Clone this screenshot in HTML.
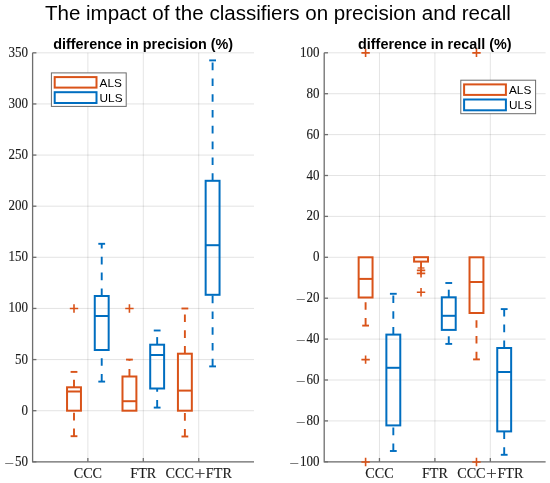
<!DOCTYPE html>
<html><head><meta charset="utf-8"><title>The impact of the classifiers on precision and recall</title>
<style>
html,body{margin:0;padding:0;background:#fff;}
body{width:550px;height:483px;overflow:hidden;}
svg{display:block;}
.yt{font-family:"Liberation Serif",serif;font-size:13px;fill:#1a1a1a;stroke:#1a1a1a;stroke-width:0.12px;text-anchor:end;}
.xt{font-family:"Liberation Serif",serif;font-size:14.2px;fill:#1a1a1a;stroke:#1a1a1a;stroke-width:0.12px;text-anchor:middle;}
.mi{font-family:"DejaVu Sans",serif;font-weight:200;stroke:none;}
.pl{font-family:"DejaVu Sans",serif;font-weight:200;stroke-width:0.2px;}
.lg{font-family:"Liberation Sans",sans-serif;font-size:11.8px;fill:#000;}
.st{font-family:"Liberation Sans",sans-serif;font-size:14.4px;font-weight:bold;fill:#000;text-anchor:middle;}
.mt{font-family:"Liberation Sans",sans-serif;font-size:20.55px;fill:#000;text-anchor:middle;}
</style></head>
<body>
<svg width="550" height="483" viewBox="0 0 550 483">
<rect width="550" height="483" fill="#fff"/>
<text x="277.9" y="20.2" class="mt">The impact of the classifiers on precision and recall</text>
<text x="143.2" y="49.1" class="st">difference in precision (%)</text>
<text x="434.8" y="49.1" class="st">difference in recall (%)</text>
<line x1="32.6" y1="52.82" x2="254" y2="52.82" stroke="#262626" stroke-opacity="0.125" stroke-width="1"/>
<line x1="32.6" y1="103.95" x2="254" y2="103.95" stroke="#262626" stroke-opacity="0.125" stroke-width="1"/>
<line x1="32.6" y1="155.07" x2="254" y2="155.07" stroke="#262626" stroke-opacity="0.125" stroke-width="1"/>
<line x1="32.6" y1="206.2" x2="254" y2="206.2" stroke="#262626" stroke-opacity="0.125" stroke-width="1"/>
<line x1="32.6" y1="257.32" x2="254" y2="257.32" stroke="#262626" stroke-opacity="0.125" stroke-width="1"/>
<line x1="32.6" y1="308.45" x2="254" y2="308.45" stroke="#262626" stroke-opacity="0.125" stroke-width="1"/>
<line x1="32.6" y1="359.57" x2="254" y2="359.57" stroke="#262626" stroke-opacity="0.125" stroke-width="1"/>
<line x1="32.6" y1="410.7" x2="254" y2="410.7" stroke="#262626" stroke-opacity="0.125" stroke-width="1"/>
<line x1="32.6" y1="461.82" x2="254" y2="461.82" stroke="#262626" stroke-opacity="0.125" stroke-width="1"/>
<line x1="87.86" y1="52.8" x2="87.86" y2="461.8" stroke="#262626" stroke-opacity="0.125" stroke-width="1"/>
<line x1="143.3" y1="52.8" x2="143.3" y2="461.8" stroke="#262626" stroke-opacity="0.125" stroke-width="1"/>
<line x1="198.74" y1="52.8" x2="198.74" y2="461.8" stroke="#262626" stroke-opacity="0.125" stroke-width="1"/>
<line x1="324.2" y1="52.8" x2="545.6" y2="52.8" stroke="#262626" stroke-opacity="0.125" stroke-width="1"/>
<line x1="324.2" y1="93.7" x2="545.6" y2="93.7" stroke="#262626" stroke-opacity="0.125" stroke-width="1"/>
<line x1="324.2" y1="134.6" x2="545.6" y2="134.6" stroke="#262626" stroke-opacity="0.125" stroke-width="1"/>
<line x1="324.2" y1="175.5" x2="545.6" y2="175.5" stroke="#262626" stroke-opacity="0.125" stroke-width="1"/>
<line x1="324.2" y1="216.4" x2="545.6" y2="216.4" stroke="#262626" stroke-opacity="0.125" stroke-width="1"/>
<line x1="324.2" y1="257.3" x2="545.6" y2="257.3" stroke="#262626" stroke-opacity="0.125" stroke-width="1"/>
<line x1="324.2" y1="298.2" x2="545.6" y2="298.2" stroke="#262626" stroke-opacity="0.125" stroke-width="1"/>
<line x1="324.2" y1="339.1" x2="545.6" y2="339.1" stroke="#262626" stroke-opacity="0.125" stroke-width="1"/>
<line x1="324.2" y1="380" x2="545.6" y2="380" stroke="#262626" stroke-opacity="0.125" stroke-width="1"/>
<line x1="324.2" y1="420.9" x2="545.6" y2="420.9" stroke="#262626" stroke-opacity="0.125" stroke-width="1"/>
<line x1="324.2" y1="461.8" x2="545.6" y2="461.8" stroke="#262626" stroke-opacity="0.125" stroke-width="1"/>
<line x1="379.46" y1="52.8" x2="379.46" y2="461.8" stroke="#262626" stroke-opacity="0.125" stroke-width="1"/>
<line x1="434.9" y1="52.8" x2="434.9" y2="461.8" stroke="#262626" stroke-opacity="0.125" stroke-width="1"/>
<line x1="490.34" y1="52.8" x2="490.34" y2="461.8" stroke="#262626" stroke-opacity="0.125" stroke-width="1"/>
<line x1="74" y1="387.3" x2="74" y2="371.9" stroke="#D95319" stroke-width="1.9" stroke-dasharray="7.6 8.2"/>
<line x1="74" y1="436.2" x2="74" y2="410.7" stroke="#D95319" stroke-width="1.9" stroke-dasharray="7.6 8.2"/>
<line x1="70.6" y1="371.9" x2="77.4" y2="371.9" stroke="#D95319" stroke-width="1.9"/>
<line x1="70.6" y1="436.2" x2="77.4" y2="436.2" stroke="#D95319" stroke-width="1.9"/>
<rect x="67.05" y="387.3" width="13.9" height="23.4" fill="none" stroke="#D95319" stroke-width="2.0"/>
<line x1="67.05" y1="391.5" x2="80.95" y2="391.5" stroke="#D95319" stroke-width="2.0"/>
<path d="M69.8 308.5H78.2M74 304.3V312.7" stroke="#D95319" stroke-width="1.6" fill="none"/>
<line x1="101.72" y1="296" x2="101.72" y2="243.8" stroke="#006EC0" stroke-width="1.9" stroke-dasharray="7.6 8.2"/>
<line x1="101.72" y1="381.6" x2="101.72" y2="350" stroke="#006EC0" stroke-width="1.9" stroke-dasharray="7.6 8.2"/>
<line x1="98.32" y1="243.8" x2="105.12" y2="243.8" stroke="#006EC0" stroke-width="1.9"/>
<line x1="98.32" y1="381.6" x2="105.12" y2="381.6" stroke="#006EC0" stroke-width="1.9"/>
<rect x="94.77" y="296" width="13.9" height="54" fill="none" stroke="#006EC0" stroke-width="2.0"/>
<line x1="94.77" y1="316" x2="108.67" y2="316" stroke="#006EC0" stroke-width="2.0"/>
<line x1="129.44" y1="376.5" x2="129.44" y2="359.6" stroke="#D95319" stroke-width="1.9" stroke-dasharray="7.6 8.2"/>
<line x1="126.04" y1="359.6" x2="132.84" y2="359.6" stroke="#D95319" stroke-width="1.9"/>
<rect x="122.49" y="376.5" width="13.9" height="34.2" fill="none" stroke="#D95319" stroke-width="2.0"/>
<line x1="122.49" y1="401.2" x2="136.39" y2="401.2" stroke="#D95319" stroke-width="2.0"/>
<path d="M125.24 308.5H133.64M129.44 304.3V312.7" stroke="#D95319" stroke-width="1.6" fill="none"/>
<line x1="157.16" y1="344.7" x2="157.16" y2="330.5" stroke="#006EC0" stroke-width="1.9" stroke-dasharray="7.6 8.2"/>
<line x1="157.16" y1="407.6" x2="157.16" y2="388.5" stroke="#006EC0" stroke-width="1.9" stroke-dasharray="7.6 8.2"/>
<line x1="153.76" y1="330.5" x2="160.56" y2="330.5" stroke="#006EC0" stroke-width="1.9"/>
<line x1="153.76" y1="407.6" x2="160.56" y2="407.6" stroke="#006EC0" stroke-width="1.9"/>
<rect x="150.21" y="344.7" width="13.9" height="43.8" fill="none" stroke="#006EC0" stroke-width="2.0"/>
<line x1="150.21" y1="355" x2="164.11" y2="355" stroke="#006EC0" stroke-width="2.0"/>
<line x1="184.88" y1="353.7" x2="184.88" y2="308.5" stroke="#D95319" stroke-width="1.9" stroke-dasharray="7.6 8.2"/>
<line x1="184.88" y1="436.5" x2="184.88" y2="410.7" stroke="#D95319" stroke-width="1.9" stroke-dasharray="7.6 8.2"/>
<line x1="181.48" y1="308.5" x2="188.28" y2="308.5" stroke="#D95319" stroke-width="1.9"/>
<line x1="181.48" y1="436.5" x2="188.28" y2="436.5" stroke="#D95319" stroke-width="1.9"/>
<rect x="177.93" y="353.7" width="13.9" height="57" fill="none" stroke="#D95319" stroke-width="2.0"/>
<line x1="177.93" y1="390.6" x2="191.83" y2="390.6" stroke="#D95319" stroke-width="2.0"/>
<line x1="212.6" y1="180.8" x2="212.6" y2="60.4" stroke="#006EC0" stroke-width="1.9" stroke-dasharray="7.6 8.2"/>
<line x1="212.6" y1="366.4" x2="212.6" y2="294.8" stroke="#006EC0" stroke-width="1.9" stroke-dasharray="7.6 8.2"/>
<line x1="209.2" y1="60.4" x2="216" y2="60.4" stroke="#006EC0" stroke-width="1.9"/>
<line x1="209.2" y1="366.4" x2="216" y2="366.4" stroke="#006EC0" stroke-width="1.9"/>
<rect x="205.65" y="180.8" width="13.9" height="114" fill="none" stroke="#006EC0" stroke-width="2.0"/>
<line x1="205.65" y1="245.2" x2="219.55" y2="245.2" stroke="#006EC0" stroke-width="2.0"/>
<line x1="365.6" y1="325.6" x2="365.6" y2="297.5" stroke="#D95319" stroke-width="1.9" stroke-dasharray="7.6 8.2"/>
<line x1="362.2" y1="325.6" x2="369" y2="325.6" stroke="#D95319" stroke-width="1.9"/>
<rect x="358.65" y="257.3" width="13.9" height="40.2" fill="none" stroke="#D95319" stroke-width="2.0"/>
<line x1="358.65" y1="278.9" x2="372.55" y2="278.9" stroke="#D95319" stroke-width="2.0"/>
<path d="M361.4 52.9H369.8M365.6 48.7V57.1" stroke="#D95319" stroke-width="1.6" fill="none"/>
<path d="M361.4 359.6H369.8M365.6 355.4V363.8" stroke="#D95319" stroke-width="1.6" fill="none"/>
<line x1="393.32" y1="334.6" x2="393.32" y2="293.8" stroke="#006EC0" stroke-width="1.9" stroke-dasharray="7.6 8.2"/>
<line x1="393.32" y1="451" x2="393.32" y2="425.4" stroke="#006EC0" stroke-width="1.9" stroke-dasharray="7.6 8.2"/>
<line x1="389.92" y1="293.8" x2="396.72" y2="293.8" stroke="#006EC0" stroke-width="1.9"/>
<line x1="389.92" y1="451" x2="396.72" y2="451" stroke="#006EC0" stroke-width="1.9"/>
<rect x="386.37" y="334.6" width="13.9" height="90.8" fill="none" stroke="#006EC0" stroke-width="2.0"/>
<line x1="386.37" y1="367.8" x2="400.27" y2="367.8" stroke="#006EC0" stroke-width="2.0"/>
<line x1="421.04" y1="261.6" x2="421.04" y2="268" stroke="#D95319" stroke-width="1.9"/>
<line x1="417.64" y1="268" x2="424.44" y2="268" stroke="#D95319" stroke-width="1.3"/>
<path d="M416.84 270.4H425.24M421.04 266.2V274.6" stroke="#D95319" stroke-width="1.6" fill="none"/>
<path d="M416.84 273.4H425.24M421.04 269.2V277.6" stroke="#D95319" stroke-width="1.6" fill="none"/>
<rect x="414.09" y="257.2" width="13.9" height="4.4" fill="none" stroke="#D95319" stroke-width="2.0"/>
<path d="M416.84 292.3H425.24M421.04 288.1V296.5" stroke="#D95319" stroke-width="1.6" fill="none"/>
<line x1="448.76" y1="297.3" x2="448.76" y2="283" stroke="#006EC0" stroke-width="1.9" stroke-dasharray="7.6 8.2"/>
<line x1="448.76" y1="343.9" x2="448.76" y2="329.9" stroke="#006EC0" stroke-width="1.9" stroke-dasharray="7.6 8.2"/>
<line x1="445.36" y1="283" x2="452.16" y2="283" stroke="#006EC0" stroke-width="1.9"/>
<line x1="445.36" y1="343.9" x2="452.16" y2="343.9" stroke="#006EC0" stroke-width="1.9"/>
<rect x="441.81" y="297.3" width="13.9" height="32.6" fill="none" stroke="#006EC0" stroke-width="2.0"/>
<line x1="441.81" y1="315.8" x2="455.71" y2="315.8" stroke="#006EC0" stroke-width="2.0"/>
<line x1="476.48" y1="359.4" x2="476.48" y2="313" stroke="#D95319" stroke-width="1.9" stroke-dasharray="7.6 8.2"/>
<line x1="473.08" y1="359.4" x2="479.88" y2="359.4" stroke="#D95319" stroke-width="1.9"/>
<rect x="469.53" y="257.3" width="13.9" height="55.7" fill="none" stroke="#D95319" stroke-width="2.0"/>
<line x1="469.53" y1="282" x2="483.43" y2="282" stroke="#D95319" stroke-width="2.0"/>
<path d="M472.28 52.9H480.68M476.48 48.7V57.1" stroke="#D95319" stroke-width="1.6" fill="none"/>
<line x1="504.2" y1="348" x2="504.2" y2="309.1" stroke="#006EC0" stroke-width="1.9" stroke-dasharray="7.6 8.2"/>
<line x1="504.2" y1="454.8" x2="504.2" y2="431.4" stroke="#006EC0" stroke-width="1.9" stroke-dasharray="7.6 8.2"/>
<line x1="500.8" y1="309.1" x2="507.6" y2="309.1" stroke="#006EC0" stroke-width="1.9"/>
<line x1="500.8" y1="454.8" x2="507.6" y2="454.8" stroke="#006EC0" stroke-width="1.9"/>
<rect x="497.25" y="348" width="13.9" height="83.4" fill="none" stroke="#006EC0" stroke-width="2.0"/>
<line x1="497.25" y1="372" x2="511.15" y2="372" stroke="#006EC0" stroke-width="2.0"/>
<path d="M32.6 52.8V461.8H254" stroke="#6e6e6e" stroke-width="1.3" fill="none"/>
<line x1="32.6" y1="52.82" x2="36.4" y2="52.82" stroke="#6e6e6e" stroke-width="1.3"/>
<text transform="translate(27.9 56.82) scale(1 1.1)" class="yt">350</text>
<line x1="32.6" y1="103.95" x2="36.4" y2="103.95" stroke="#6e6e6e" stroke-width="1.3"/>
<text transform="translate(27.9 107.95) scale(1 1.1)" class="yt">300</text>
<line x1="32.6" y1="155.07" x2="36.4" y2="155.07" stroke="#6e6e6e" stroke-width="1.3"/>
<text transform="translate(27.9 159.07) scale(1 1.1)" class="yt">250</text>
<line x1="32.6" y1="206.2" x2="36.4" y2="206.2" stroke="#6e6e6e" stroke-width="1.3"/>
<text transform="translate(27.9 210.2) scale(1 1.1)" class="yt">200</text>
<line x1="32.6" y1="257.32" x2="36.4" y2="257.32" stroke="#6e6e6e" stroke-width="1.3"/>
<text transform="translate(27.9 261.32) scale(1 1.1)" class="yt">150</text>
<line x1="32.6" y1="308.45" x2="36.4" y2="308.45" stroke="#6e6e6e" stroke-width="1.3"/>
<text transform="translate(27.9 312.45) scale(1 1.1)" class="yt">100</text>
<line x1="32.6" y1="359.57" x2="36.4" y2="359.57" stroke="#6e6e6e" stroke-width="1.3"/>
<text transform="translate(27.9 363.57) scale(1 1.1)" class="yt">50</text>
<line x1="32.6" y1="410.7" x2="36.4" y2="410.7" stroke="#6e6e6e" stroke-width="1.3"/>
<text transform="translate(27.9 414.7) scale(1 1.1)" class="yt">0</text>
<line x1="32.6" y1="461.82" x2="36.4" y2="461.82" stroke="#6e6e6e" stroke-width="1.3"/>
<text transform="translate(27.9 465.82) scale(1 1.1)" class="yt"><tspan class="mi" dy="1.8">&#8722;</tspan><tspan dy="-1.8">50</tspan></text>
<line x1="87.86" y1="461.8" x2="87.86" y2="458" stroke="#6e6e6e" stroke-width="1.3"/>
<text transform="translate(87.86 478.3) scale(1 1.03)" class="xt">CCC</text>
<line x1="143.3" y1="461.8" x2="143.3" y2="458" stroke="#6e6e6e" stroke-width="1.3"/>
<text transform="translate(143.3 478.3) scale(1 1.03)" class="xt">FTR</text>
<line x1="198.74" y1="461.8" x2="198.74" y2="458" stroke="#6e6e6e" stroke-width="1.3"/>
<text transform="translate(198.74 478.3) scale(1 1.03)" class="xt">CCC<tspan class="pl">+</tspan>FTR</text>
<path d="M324.2 52.8V461.8H545.6" stroke="#6e6e6e" stroke-width="1.3" fill="none"/>
<line x1="324.2" y1="52.8" x2="328" y2="52.8" stroke="#6e6e6e" stroke-width="1.3"/>
<text transform="translate(319.5 56.8) scale(1 1.1)" class="yt">100</text>
<line x1="324.2" y1="93.7" x2="328" y2="93.7" stroke="#6e6e6e" stroke-width="1.3"/>
<text transform="translate(319.5 97.7) scale(1 1.1)" class="yt">80</text>
<line x1="324.2" y1="134.6" x2="328" y2="134.6" stroke="#6e6e6e" stroke-width="1.3"/>
<text transform="translate(319.5 138.6) scale(1 1.1)" class="yt">60</text>
<line x1="324.2" y1="175.5" x2="328" y2="175.5" stroke="#6e6e6e" stroke-width="1.3"/>
<text transform="translate(319.5 179.5) scale(1 1.1)" class="yt">40</text>
<line x1="324.2" y1="216.4" x2="328" y2="216.4" stroke="#6e6e6e" stroke-width="1.3"/>
<text transform="translate(319.5 220.4) scale(1 1.1)" class="yt">20</text>
<line x1="324.2" y1="257.3" x2="328" y2="257.3" stroke="#6e6e6e" stroke-width="1.3"/>
<text transform="translate(319.5 261.3) scale(1 1.1)" class="yt">0</text>
<line x1="324.2" y1="298.2" x2="328" y2="298.2" stroke="#6e6e6e" stroke-width="1.3"/>
<text transform="translate(319.5 302.2) scale(1 1.1)" class="yt"><tspan class="mi" dy="1.8">&#8722;</tspan><tspan dy="-1.8">20</tspan></text>
<line x1="324.2" y1="339.1" x2="328" y2="339.1" stroke="#6e6e6e" stroke-width="1.3"/>
<text transform="translate(319.5 343.1) scale(1 1.1)" class="yt"><tspan class="mi" dy="1.8">&#8722;</tspan><tspan dy="-1.8">40</tspan></text>
<line x1="324.2" y1="380" x2="328" y2="380" stroke="#6e6e6e" stroke-width="1.3"/>
<text transform="translate(319.5 384) scale(1 1.1)" class="yt"><tspan class="mi" dy="1.8">&#8722;</tspan><tspan dy="-1.8">60</tspan></text>
<line x1="324.2" y1="420.9" x2="328" y2="420.9" stroke="#6e6e6e" stroke-width="1.3"/>
<text transform="translate(319.5 424.9) scale(1 1.1)" class="yt"><tspan class="mi" dy="1.8">&#8722;</tspan><tspan dy="-1.8">80</tspan></text>
<line x1="324.2" y1="461.8" x2="328" y2="461.8" stroke="#6e6e6e" stroke-width="1.3"/>
<text transform="translate(319.5 465.8) scale(1 1.1)" class="yt"><tspan class="mi" dy="1.8">&#8722;</tspan><tspan dy="-1.8">100</tspan></text>
<line x1="379.46" y1="461.8" x2="379.46" y2="458" stroke="#6e6e6e" stroke-width="1.3"/>
<text transform="translate(379.46 478.3) scale(1 1.03)" class="xt">CCC</text>
<line x1="434.9" y1="461.8" x2="434.9" y2="458" stroke="#6e6e6e" stroke-width="1.3"/>
<text transform="translate(434.9 478.3) scale(1 1.03)" class="xt">FTR</text>
<line x1="490.34" y1="461.8" x2="490.34" y2="458" stroke="#6e6e6e" stroke-width="1.3"/>
<text transform="translate(490.34 478.3) scale(1 1.03)" class="xt">CCC<tspan class="pl">+</tspan>FTR</text>
<path d="M361.4 462H369.8M365.6 457.8V466.2" stroke="#D95319" stroke-width="1.6" fill="none"/>
<path d="M472.28 462H480.68M476.48 457.8V466.2" stroke="#D95319" stroke-width="1.6" fill="none"/>
<rect x="51.4" y="72.9" width="74.8" height="33.5" fill="#fff" stroke="#6b6b6b" stroke-width="1"/>
<rect x="54.7" y="77.1" width="41.8" height="10.5" fill="none" stroke="#D95319" stroke-width="2.0"/>
<rect x="54.7" y="92.2" width="41.8" height="10.8" fill="none" stroke="#006EC0" stroke-width="2.0"/>
<text x="99.6" y="86.8" class="lg">ALS</text>
<text x="99.6" y="101.5" class="lg">ULS</text>
<rect x="460.8" y="80.2" width="74.8" height="33.5" fill="#fff" stroke="#6b6b6b" stroke-width="1"/>
<rect x="464.1" y="84.4" width="41.8" height="10.5" fill="none" stroke="#D95319" stroke-width="2.0"/>
<rect x="464.1" y="99.5" width="41.8" height="10.8" fill="none" stroke="#006EC0" stroke-width="2.0"/>
<text x="509" y="94.1" class="lg">ALS</text>
<text x="509" y="108.8" class="lg">ULS</text>
</svg>
</body></html>
